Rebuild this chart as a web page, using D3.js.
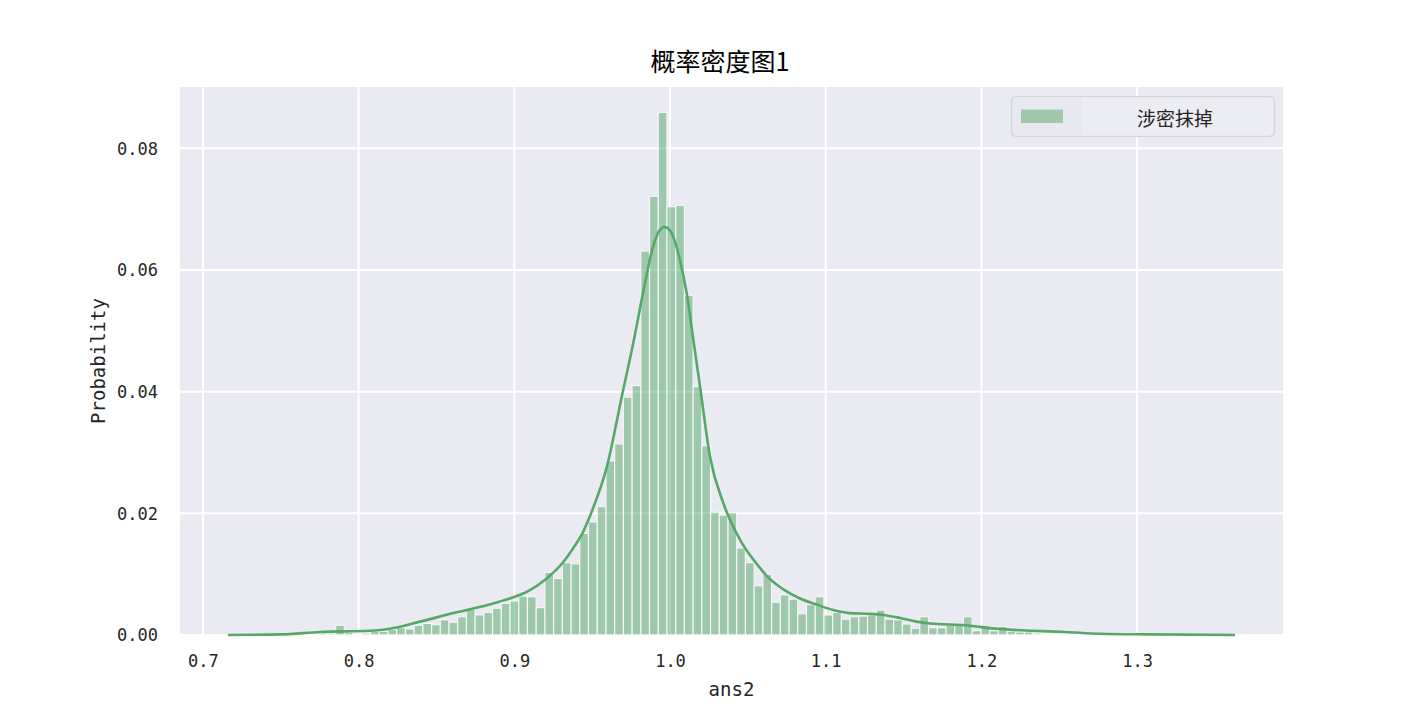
<!DOCTYPE html>
<html>
<head>
<meta charset="utf-8">
<script src="https://cdn.jsdelivr.net/npm/d3@7"></script>
<style>
  body { margin: 0; background: #fff; }
  .tick text { font-family: "DejaVu Sans Mono", monospace; }
</style>
</head>
<body>
<svg id="chart"></svg>
<script>
// histogram: left edge of the first bin, bin width, probability per bin
const binStart = 0.72924;
const binWidth = 0.0056;
const probs = [
  0.0002, 0, 0.0001, 0, 0.0002, 0.0001, 0.0002, 0.0002, 0.0003, 0.0003,
  0.0016, 0.0004, 0.0002, 0.0003, 0.0006, 0.0006, 0.0009, 0.0012, 0.0010, 0.0016,
  0.0019, 0.0017, 0.0025, 0.0021, 0.0030, 0.0042, 0.0033, 0.0037, 0.0044, 0.0052,
  0.0056, 0.0064, 0.0063, 0.0045, 0.0103, 0.0093, 0.0119, 0.0117, 0.0167, 0.0186,
  0.0211, 0.0286, 0.0314, 0.0391, 0.0410, 0.0631, 0.0721, 0.0859, 0.0704, 0.0706,
  0.0558, 0.0408, 0.0311, 0.0202, 0.0197, 0.0201, 0.0143, 0.0119, 0.0081, 0.0100,
  0.0054, 0.0066, 0.0059, 0.0035, 0.0050, 0.0063, 0.0033, 0.0037, 0.0026, 0.0030,
  0.0031, 0.0033, 0.0041, 0.0026, 0.0025, 0.0018, 0.0011, 0.0030, 0.0012, 0.0012,
  0.0016, 0.0016, 0.0030, 0.0007, 0.0013, 0.0007, 0.0014, 0.0006, 0.0005, 0.0005,
  0.0003, 0.0002, 0.0002, 0.0001, 0.0002, 0.0001, 0.0001, 0, 0.0001, 0,
  0, 0.0001, 0, 0, 0, 0.0001, 0, 0, 0, 0.0001
];

// kde curve
const kdeX = [0.7161, 0.7502, 0.7752, 0.8073, 0.8180, 0.8394, 0.8608, 0.8823, 0.8994, 0.9080,
  0.9208, 0.9315, 0.9379, 0.9443, 0.9493, 0.9593, 0.9697, 0.9764, 0.9829, 0.9893,
  0.9936, 0.9963, 1.0011, 1.0064, 1.0107, 1.0150, 1.0193, 1.0257, 1.0342, 1.0451,
  1.0579, 1.0621, 1.0728, 1.0835, 1.0942, 1.1049, 1.1156, 1.1263, 1.1370, 1.1477,
  1.1584, 1.1670, 1.1895, 1.2109, 1.2323, 1.2537, 1.2762, 1.3083, 1.3629];
const kdeY = [0.0000, 0.0001, 0.0005, 0.0007, 0.00095, 0.0022, 0.0036, 0.0049, 0.0062, 0.0071,
  0.0093, 0.0120, 0.0143, 0.0170, 0.0200, 0.0275, 0.0400, 0.0480, 0.0565, 0.0640,
  0.0666, 0.0671, 0.0660, 0.0616, 0.0562, 0.0485, 0.0408, 0.0293, 0.0217, 0.0156,
  0.0110, 0.0097, 0.0075, 0.0060, 0.0050, 0.0041, 0.0036, 0.0035, 0.0033, 0.0028,
  0.0022, 0.0019, 0.0016, 0.0010, 0.0007, 0.0005, 0.0002, 0.0001, 0.0000];

const xTicks = [0.7, 0.8, 0.9, 1.0, 1.1, 1.2, 1.3];
const yTicks = [0, 0.02, 0.04, 0.06, 0.08];

const titleText = "概率密度图1";
const legendLabel = "涉密抹掉";
const xLabel = "ans2";
const yLabel = "Probability";

class DistPlot {
  constructor(config) {
    this.config = {
      parent: config.parent,
      width: config.width || 1428,
      height: config.height || 714,
      margin: config.margin || {top: 87, right: 145, bottom: 79, left: 180}
    };
    this.init();
  }

  init() {
    let self = this;
    self.svg = d3.select(self.config.parent)
      .attr('width', self.config.width)
      .attr('height', self.config.height);

    self.inner_width = self.config.width - self.config.margin.left - self.config.margin.right;
    self.inner_height = self.config.height - self.config.margin.top - self.config.margin.bottom;

    self.chart = self.svg.append('g')
      .attr('transform', `translate(${self.config.margin.left}, ${self.config.margin.top})`);

    self.xscale = d3.scaleLinear().domain([0.68529, 1.3937]).range([0, self.inner_width]);
    self.yscale = d3.scaleLinear().domain([0, 0.09007]).range([self.inner_height, 0]);
  }

  render() {
    let self = this;
    const green = '#55a868';

    self.chart.append('rect')
      .attr('width', self.inner_width)
      .attr('height', self.inner_height)
      .attr('fill', '#eaeaf2');

    // grid
    self.chart.append('g').selectAll('line').data(xTicks).join('line')
      .attr('x1', d => self.xscale(d)).attr('x2', d => self.xscale(d))
      .attr('y1', 0).attr('y2', self.inner_height)
      .attr('stroke', '#fff').attr('stroke-width', 2);
    self.chart.append('g').selectAll('line').data(yTicks).join('line')
      .attr('x1', 0).attr('x2', self.inner_width)
      .attr('y1', d => self.yscale(d)).attr('y2', d => self.yscale(d))
      .attr('stroke', '#fff').attr('stroke-width', 2);

    // bars
    const bins = probs.map((p, i) => ({x0: binStart + i * binWidth, x1: binStart + (i + 1) * binWidth, p: p}));
    self.chart.append('g').selectAll('rect').data(bins.filter(d => d.p > 0)).join('rect')
      .attr('x', d => self.xscale(d.x0))
      .attr('width', d => self.xscale(d.x1) - self.xscale(d.x0))
      .attr('y', d => self.yscale(d.p))
      .attr('height', d => self.yscale(0) - self.yscale(d.p))
      .attr('fill', green)
      .attr('stroke', '#fff')
      .attr('stroke-width', 1.2)
      .attr('opacity', 0.5);

    // kde
    const line = d3.line()
      .x((d, i) => self.xscale(kdeX[i]))
      .y(d => self.yscale(d))
      .curve(d3.curveMonotoneX);
    self.chart.append('path')
      .attr('d', line(kdeY))
      .attr('fill', 'none')
      .attr('stroke', green)
      .attr('stroke-width', 2.6);

    // axes
    const xaxis = d3.axisBottom(self.xscale).tickValues(xTicks).tickSize(0).tickPadding(20)
      .tickFormat(d3.format('.1f'));
    const xg = self.chart.append('g')
      .attr('transform', `translate(0, ${self.inner_height})`)
      .call(xaxis);
    const yaxis = d3.axisLeft(self.yscale).tickValues(yTicks).tickSize(0).tickPadding(22)
      .tickFormat(d3.format('.2f'));
    const yg = self.chart.append('g').call(yaxis);
    [xg, yg].forEach(g => {
      g.select('.domain').remove();
      g.selectAll('.tick text').attr('font-size', 17).attr('fill', '#262626');
    });
    yg.selectAll('.tick text').attr('dy', '0.35em');

    self.chart.append('text')
      .attr('x', self.inner_width / 2)
      .attr('y', self.inner_height + 61)
      .attr('text-anchor', 'middle')
      .attr('font-family', '"DejaVu Sans Mono", monospace')
      .attr('font-size', 19)
      .attr('fill', '#262626')
      .text(xLabel);

    self.chart.append('text')
      .attr('transform', `translate(-75, ${self.inner_height / 2}) rotate(-90)`)
      .attr('text-anchor', 'middle')
      .attr('font-family', '"DejaVu Sans Mono", monospace')
      .attr('font-size', 19)
      .attr('fill', '#262626')
      .text(yLabel);

    // title
    self.svg.append('text')
      .attr('x', 720)
      .attr('y', 71)
      .attr('text-anchor', 'middle')
      .attr('font-family', '"Noto Sans CJK SC", sans-serif')
      .attr('font-size', 25)
      .attr('fill', '#000')
      .text(titleText);

    // legend
    const lg = self.svg.append('g');
    lg.append('rect')
      .attr('x', 1011.5).attr('y', 96.5).attr('width', 263).attr('height', 40).attr('rx', 5)
      .attr('fill', '#e8e8f0').attr('stroke', '#d2d2d8').attr('stroke-width', 1.2);
    lg.append('rect')
      .attr('x', 1082).attr('y', 98).attr('width', 191).attr('height', 37)
      .attr('fill', '#ececf3');
    lg.append('rect')
      .attr('x', 1021).attr('y', 109.5).attr('width', 42).attr('height', 13.5)
      .attr('fill', green).attr('opacity', 0.5);
    lg.append('text')
      .attr('x', 1137).attr('y', 117)
      .attr('dominant-baseline', 'central')
      .attr('font-family', '"Noto Sans CJK SC", sans-serif')
      .attr('font-size', 19)
      .attr('fill', '#262626')
      .text(legendLabel);
  }
}

const plot = new DistPlot({parent: '#chart'});
plot.render();
</script>
</body>
</html>
